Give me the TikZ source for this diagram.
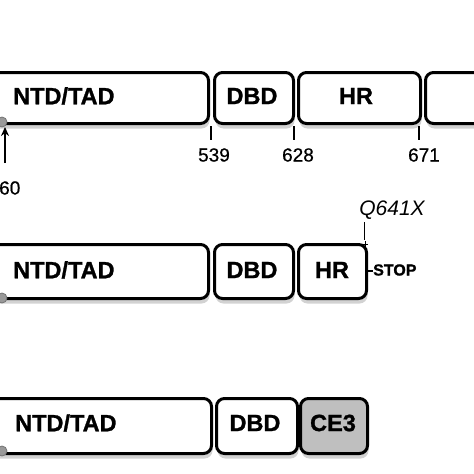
\documentclass[tikz,border=0pt]{standalone}
\usepackage{fontspec}
\setmainfont{Liberation Sans}
\newfontfamily\heavyfont[FakeBold=1.2]{Liberation Sans Bold}
\newfontfamily\numfont[FakeBold=0.6]{Liberation Sans}
\usetikzlibrary{shadows,arrows.meta,calc}
\begin{document}
\begin{tikzpicture}[x=1pt,y=-1pt,
  dom/.style={draw=black, line width=3pt, rounded corners=8pt, fill=white, anchor=north west,
    inner sep=0pt, drop shadow={shadow xshift=1pt, shadow yshift=-5pt, fill=black!25, opacity=0.7}},
  domgray/.style={dom, fill=black!25},
  dtext/.style={font=\fontsize{23.5}{26}\heavyfont, inner sep=0pt},
  num/.style={font=\fontsize{19}{22}\numfont, inner sep=0pt},
  tick/.style={line width=1.6pt},
  dot/.style={circle, draw=black!55, fill=black!40, line width=0.8pt, minimum size=10pt, inner sep=0pt}]
\useasboundingbox (0,0) rectangle (474,474);
% ---------- row 1 ----------
\node[dom, minimum width=227pt, minimum height=51pt] (a1) at (-20,71) {};
\node[dom, minimum width=79pt, minimum height=51pt] (a2) at (213,71) {};
\node[dom, minimum width=122pt, minimum height=51pt] (a3) at (297,71) {};
\node[dom, minimum width=90pt, minimum height=51pt] (a4) at (424,71) {};
\node[dtext, anchor=west] (ta1) at (13,96) {NTD/TAD};
\node[dtext] (ta2) at (252,96) {DBD};
\node[dtext] (ta3) at (356,96) {HR};
\node[dot] (c1) at (2,122) {};
\coordinate (k1a) at (211,126); \coordinate (k1b) at (211,140);
\coordinate (k2a) at (294,126); \coordinate (k2b) at (294,140);
\coordinate (k3a) at (419,126); \coordinate (k3b) at (419,140);
\draw[tick] (k1a) -- (k1b);
\draw[tick] (k2a) -- (k2b);
\draw[tick] (k3a) -- (k3b);
\node[num] (n539) at (214,155) {539};
\node[num] (n628) at (298,155) {628};
\node[num] (n671) at (424,155) {671};
\node[num, anchor=west] (n60) at (-1,188) {60};
\coordinate (ar0) at (5,163);
\coordinate (ar1) at (5,127);
\draw[line width=1.6pt, -{Stealth[length=9pt,width=8pt]}] (ar0) -- (ar1);
% ---------- row 2 ----------
\node[dom, minimum width=227pt, minimum height=54pt] (b1) at (-20,243) {};
\node[dom, minimum width=79pt, minimum height=54pt] (b2) at (213,243) {};
\node[dom, minimum width=68pt, minimum height=54pt] (b3) at (297,243) {};
\node[dtext, anchor=west] (tb1) at (13,270) {NTD/TAD};
\node[dtext] (tb2) at (252,270) {DBD};
\node[dtext] (tb3) at (332,270) {HR};
\node[dot] (c2) at (2,298) {};
\node[font=\fontsize{21}{24}\selectfont\itshape, inner sep=0pt] (q) at (392,210) {Q641X};
\coordinate (m0) at (364,222); \coordinate (m1) at (364,240);
\draw[line width=1pt] (m0) -- (m1);
\coordinate (st) at (365,244);
\draw[line width=0.8pt] ($(st)+(-3,0)$) -- ($(st)+(3,0)$) ($(st)+(0,-3)$) -- ($(st)+(0,3)$);
\coordinate (d0) at (367,271); \coordinate (d1) at (373,271);
\draw[line width=1.3pt] (d0) -- (d1);
\node[font=\fontsize{16}{18}\heavyfont, inner sep=0pt, anchor=west] (stop) at (373,270) {STOP};
% ---------- row 3 ----------
\node[dom, minimum width=230pt, minimum height=55pt] (r1) at (-20,397) {};
\node[dom, minimum width=81pt, minimum height=55pt] (r2) at (215,397) {};
\node[domgray, minimum width=67pt, minimum height=55pt] (r3) at (299,397) {};
\node[dtext, anchor=west] (tr1) at (15,423) {NTD/TAD};
\node[dtext] (tr2) at (255,423) {DBD};
\node[dtext] (tr3) at (333,423) {CE3};
\node[dot] (c3) at (2,451) {};
\end{tikzpicture}
\end{document}
